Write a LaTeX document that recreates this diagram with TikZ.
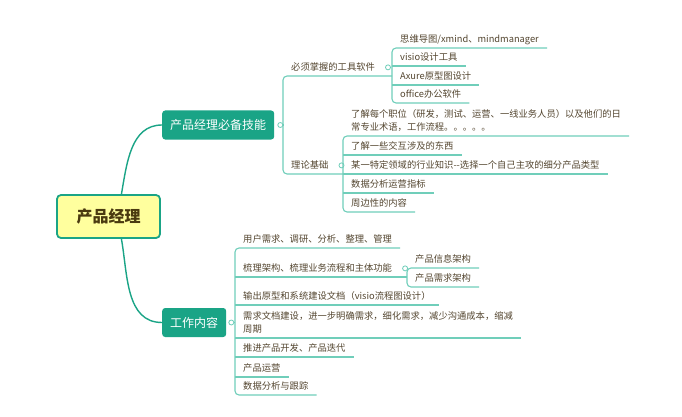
\documentclass[tikz,border=0pt]{standalone}
\usepackage{fontspec}
\newfontfamily\cjk{Noto Sans CJK SC}
\usetikzlibrary{positioning}

\definecolor{mainteal}{RGB}{26,164,134}
\definecolor{lineteal}{RGB}{112,206,186}
\definecolor{leafink}{RGB}{84,70,48}
\definecolor{rootfill}{RGB}{255,255,158}
\definecolor{rootink}{RGB}{74,58,16}

\begin{document}
\begin{tikzpicture}[x=1pt, y=1pt,
    rootbox/.style={draw=mainteal, line width=1.8pt, fill=rootfill, rounded corners=4pt,
        minimum width=103pt, minimum height=43pt, text=rootink,
        font=\cjk\fontsize{16}{18}\selectfont\bfseries},
    branch/.style={fill=mainteal, rounded corners=3pt, text=white, inner xsep=8pt,
        minimum height=29pt, anchor=west, font=\cjk\fontsize{12}{14}\selectfont},
    topic/.style={anchor=south west, inner xsep=8pt, inner ysep=3.5pt, text depth=2pt,
        text=leafink, align=left, font=\cjk\fontsize{9.3}{13}\selectfont},
    knob/.style={circle, draw=lineteal, fill=white, line width=0.8pt, inner sep=0pt,
        minimum size=5pt},
    mainline/.style={draw=mainteal, line width=1.4pt},
    subline/.style={draw=lineteal, line width=1.1pt, rounded corners=4pt}]

    \fill[white] (0,0) rectangle (682,-417);
    \useasboundingbox (0,0) rectangle (682,-417);

    % central topic and the two branches
    \node[rootbox] (pm) at (108.5,-216.5) {产品经理};
    \node[branch] (skill) at (162,-125) {产品经理必备技能};
    \node[branch] (work) at (162,-322.5) {工作内容};
    \node[knob, right=3pt of skill] (skillknob) {};
    \node[knob, right=2pt of work] (workknob) {};

    \draw[mainline] (pm.60) to[out=80, in=180] (skill.west);
    \draw[mainline] (pm.-60) to[out=-80, in=180] (work.west);

    % skills
    \node[topic] (tool) at (283,-76) {必须掌握的工具软件};
    \node[topic] (theory) at (283,-174) {理论基础};
    \node[knob, right=2pt of tool] (toolknob) {};
    \node[knob, right=2pt of theory] (theoryknob) {};

    \node[topic] (t1) at (392,-48) {思维导图/xmind、mindmanager};
    \node[topic] (t2) at (392,-66) {visio设计工具};
    \node[topic] (t3) at (392,-85) {Axure原型图设计};
    \node[topic] (t4) at (392,-103) {office办公软件};

    \node[topic] (r1) at (343,-136) {了解每个职位（研发，测试、运营、一线业务人员）以及他们的日\\常专业术语，工作流程。。。。。};
    \node[topic] (r2) at (343,-155) {了解一些交互涉及的东西};
    \node[topic] (r3) at (343,-174) {某一特定领域的行业知识{-}{-}选择一个自己主攻的细分产品类型};
    \node[topic] (r4) at (343,-193) {数据分析运营指标};
    \node[topic] (r5) at (343,-212) {周边性的内容};

    \draw[subline] (skillknob.east) -- (skillknob.east -| tool.west);
    \draw[subline] (tool.south -| t1.west) -- (tool.south west) -- (theory.south west) -- (theory.south -| r1.west);
    \draw[subline] (t1.south east) -- (t1.south west) -- (t4.south west) -- (t4.south east);
    \foreach \leaf in {t2,t3}
        \draw[subline] (\leaf.south west) -- (\leaf.south east);
    \draw[subline] (r1.south east) -- (r1.south west) -- (r5.south west) -- (r5.south east);
    \foreach \leaf in {r2,r3,r4}
        \draw[subline] (\leaf.south west) -- (\leaf.south east);

    % work
    \node[topic] (w1) at (235,-248) {用户需求、调研、分析、整理、管理};
    \node[topic] (w2) at (235,-277) {梳理架构、梳理业务流程和主体功能};
    \node[topic] (w3) at (235,-305) {输出原型和系统建设文档（visio流程图设计）};
    \node[topic] (w4) at (235,-338) {需求文档建设，进一步明确需求，细化需求，减少沟通成本，缩减\\周期};
    \node[topic] (w5) at (235,-357) {推进产品开发、产品迭代};
    \node[topic] (w6) at (235,-377) {产品运营};
    \node[topic] (w7) at (235,-395) {数据分析与跟踪};
    \node[knob, right=2pt of w2] (w2knob) {};

    \node[topic] (s1) at (407,-268) {产品信息架构};
    \node[topic] (s2) at (407,-287) {产品需求架构};

    \draw[subline] (workknob.east) -- (workknob.east -| w1.west);
    \draw[subline] (w1.south east) -- (w1.south west) -- (w7.south west) -- (w7.south east);
    \foreach \leaf in {w3,w4,w5,w6}
        \draw[subline] (\leaf.south west) -- (\leaf.south east);
    \draw[subline] (w2.south west) -- (w2.south -| s1.west);
    \draw[subline] (s1.south east) -- (s1.south west) -- (s2.south west) -- (s2.south east);
\end{tikzpicture}
\end{document}
